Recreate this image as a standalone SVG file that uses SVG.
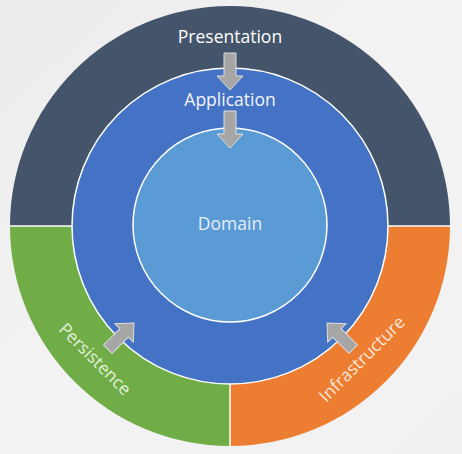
<svg xmlns="http://www.w3.org/2000/svg" width="462" height="454" viewBox="0 0 462 454">
  <defs>
    <linearGradient id="bg" x1="0" y1="0" x2="1" y2="1">
      <stop offset="0" stop-color="#ececec"/>
      <stop offset="0.5" stop-color="#f3f3f3"/>
      <stop offset="1" stop-color="#f1f1f1"/>
    </linearGradient>
    <path id="arr" d="M -6 -37 L 6 -37 L 6 -14 L 13 -14 L 0 0 L -13 -14 L -6 -14 Z"/>
  </defs>
  <style>
    .lbl { font-family: "Open Sans", "Noto Sans", "Liberation Sans", sans-serif; font-size: 17.5px; text-anchor: middle; }
    .sep { stroke: #ffffff; stroke-width: 1.5; fill: none; }
    .ring { stroke: #ffffff; stroke-width: 1.5; }
    .arrow { fill: #a6a6a6; stroke: #dcdcdc; stroke-width: 1; }
  </style>
  <rect x="0" y="0" width="462" height="454" fill="url(#bg)"/>

  <g id="presentation">
    <path d="M 10 226 A 220 220 0 0 1 450 226 Z" fill="#44546a"/>
    <text class="lbl" x="230" y="43" fill="#ffffff">Presentation</text>
  </g>
  <g id="persistence">
    <path d="M 230 226 L 10 226 A 220 220 0 0 0 230 446 Z" fill="#70ad47"/>
  </g>
  <g id="infrastructure">
    <path d="M 230 226 L 230 446 A 220 220 0 0 0 450 226 Z" fill="#ed7d31"/>
  </g>
  <g id="separators">
    <line class="sep" x1="10" y1="226" x2="450" y2="226"/>
    <line class="sep" x1="230" y1="226" x2="230" y2="446"/>
  </g>
  <g id="application">
    <circle class="ring" cx="230" cy="226" r="158" fill="#4472c4"/>
    <text class="lbl" x="230" y="106" fill="#f2f5fb">Application</text>
  </g>
  <g id="domain">
    <circle class="ring" cx="230" cy="225" r="97" fill="#5b9bd5"/>
    <text class="lbl" x="230" y="230" fill="#e6effa">Domain</text>
  </g>
  <g id="outer-labels">
    <text class="lbl" transform="translate(95,359) rotate(45)" x="0" y="6" fill="#e2f0d9">Persistence</text>
    <text class="lbl" transform="translate(362,359) rotate(-45)" x="0" y="6" fill="#fbe5d6">Infrastructure</text>
  </g>
  <g id="connectors">
    <use href="#arr" class="arrow" transform="translate(230,90)"/>
    <use href="#arr" class="arrow" transform="translate(230,148)"/>
    <use href="#arr" class="arrow" transform="translate(134,323) rotate(-135)"/>
    <use href="#arr" class="arrow" transform="translate(327,323) rotate(135)"/>
  </g>
</svg>
